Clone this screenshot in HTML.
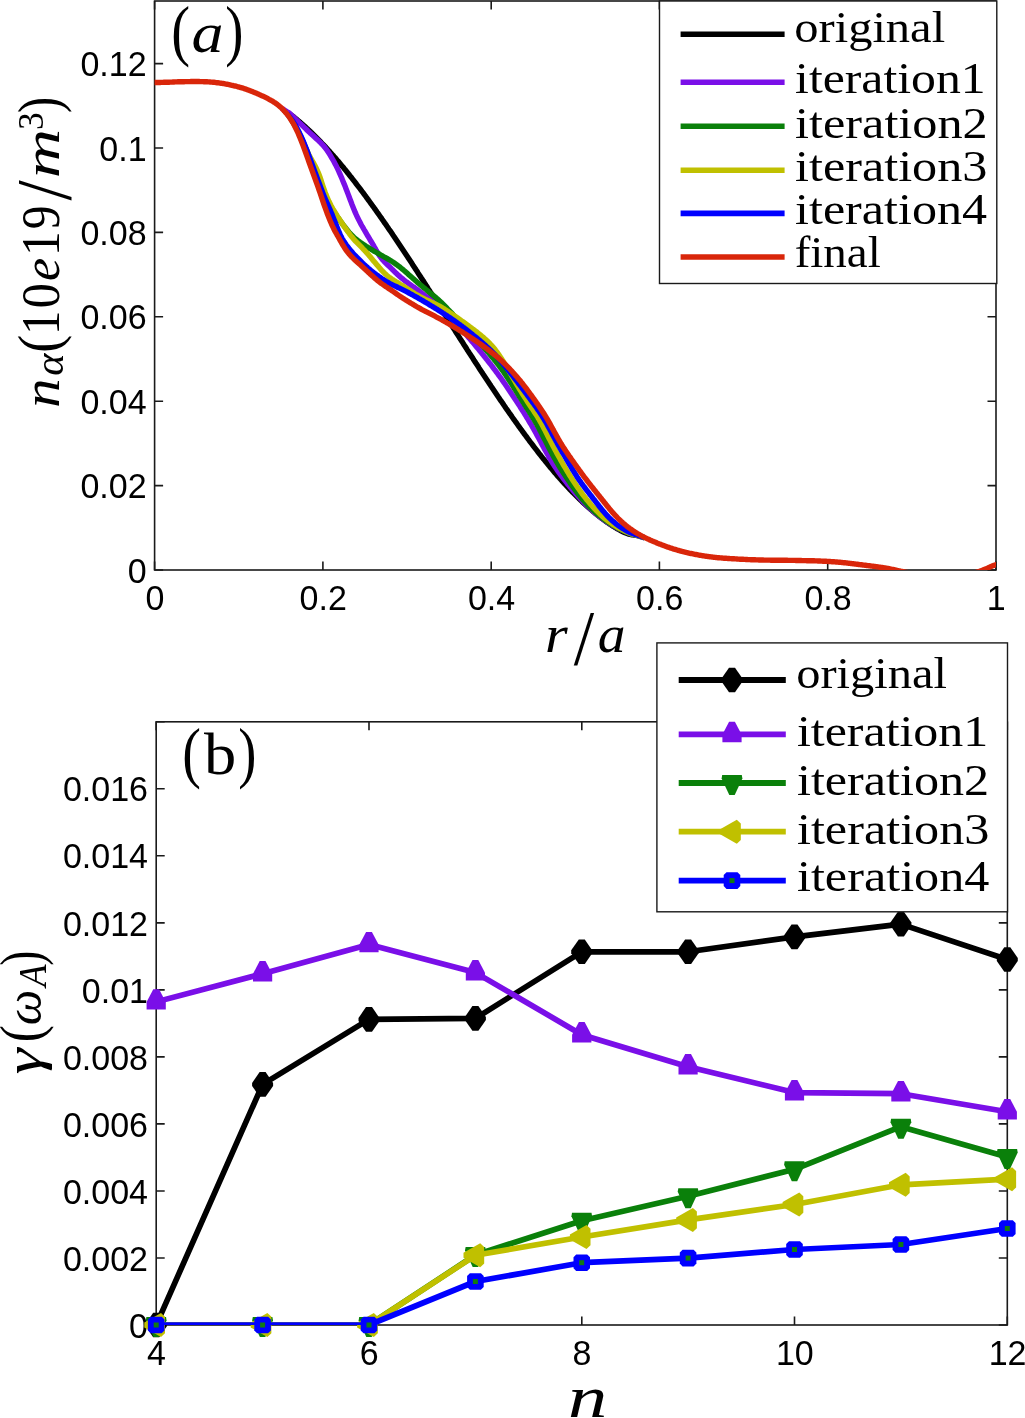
<!DOCTYPE html>
<html><head><meta charset="utf-8"><style>html,body{margin:0;padding:0;background:#fff;overflow:hidden}svg{display:block}</style></head><body>
<svg width="1025" height="1418" viewBox="0 0 1025 1418">
<defs><clipPath id="c1"><rect x="154.6" y="1.0" width="841.4" height="569.0"/></clipPath>
<clipPath id="c2"><rect x="156.2" y="721.8" width="851.1" height="603.2"/></clipPath></defs>
<rect width="1025" height="1418" fill="#fff"/>
<rect x="154.6" y="1.0" width="841.4" height="569.0" stroke="#1a1a1a" stroke-width="1.6" fill="none"/>
<path d="M154.6,570.0v-8.5M154.6,1.0v8.5M322.9,570.0v-8.5M322.9,1.0v8.5M491.2,570.0v-8.5M491.2,1.0v8.5M659.4,570.0v-8.5M659.4,1.0v8.5M827.7,570.0v-8.5M827.7,1.0v8.5M996.0,570.0v-8.5M996.0,1.0v8.5M154.6,570.0h8.5M996.0,570.0h-8.5M154.6,485.6h8.5M996.0,485.6h-8.5M154.6,401.2h8.5M996.0,401.2h-8.5M154.6,316.8h8.5M996.0,316.8h-8.5M154.6,232.4h8.5M996.0,232.4h-8.5M154.6,148.0h8.5M996.0,148.0h-8.5M154.6,63.6h8.5M996.0,63.6h-8.5" stroke="#1a1a1a" stroke-width="1.6" fill="none"/>
<g clip-path="url(#c1)" fill="none" stroke-width="5.4" stroke-linejoin="round" stroke-linecap="butt">
<path d="M284.0,110.3 L285.0,111.2 L286.0,111.9 L287.0,112.6 L288.0,113.2 L289.0,113.7 L290.0,114.3 L291.0,114.9 L292.0,115.6 L293.0,116.4 L294.0,117.2 L295.0,118.0 L296.0,118.8 L297.0,119.7 L298.0,120.5 L299.0,121.3 L300.0,122.2 L301.0,123.0 L302.0,123.9 L303.0,124.8 L304.0,125.7 L305.0,126.6 L306.0,127.5 L307.0,128.4 L308.0,129.3 L309.0,130.3 L310.0,131.2 L311.0,132.2 L312.0,133.1 L313.0,134.1 L314.0,135.1 L315.0,136.1 L316.0,137.1 L317.0,138.1 L318.0,139.1 L319.0,140.1 L320.0,141.2 L321.0,142.2 L322.0,143.3 L323.0,144.3 L324.0,145.4 L325.0,146.5 L326.0,147.5 L327.0,148.6 L328.0,149.7 L329.0,150.8 L330.0,152.0 L331.0,153.1 L332.0,154.2 L333.0,155.3 L334.0,156.5 L335.0,157.6 L336.0,158.8 L337.0,160.0 L338.0,161.1 L339.0,162.3 L340.0,163.5 L341.0,164.7 L342.0,165.9 L343.0,167.1 L344.0,168.3 L345.0,169.6 L346.0,170.8 L347.0,172.0 L348.0,173.3 L349.0,174.5 L350.0,175.8 L351.0,177.1 L352.0,178.3 L353.0,179.6 L354.0,180.9 L355.0,182.2 L356.0,183.5 L357.0,184.8 L358.0,186.1 L359.0,187.4 L360.0,188.7 L361.0,190.0 L362.0,191.4 L363.0,192.7 L364.0,194.0 L365.0,195.4 L366.0,196.7 L367.0,198.1 L368.0,199.5 L369.0,200.8 L370.0,202.2 L371.0,203.6 L372.0,205.0 L373.0,206.4 L374.0,207.7 L375.0,209.1 L376.0,210.5 L377.0,212.0 L378.0,213.4 L379.0,214.8 L380.0,216.2 L381.0,217.6 L382.0,219.1 L383.0,220.5 L384.0,221.9 L385.0,223.4 L386.0,224.8 L387.0,226.3 L388.0,227.7 L389.0,229.2 L390.0,230.6 L391.0,232.1 L392.0,233.6 L393.0,235.1 L394.0,236.5 L395.0,238.0 L396.0,239.5 L397.0,241.0 L398.0,242.5 L399.0,244.0 L400.0,245.5 L401.0,247.0 L402.0,248.5 L403.0,250.0 L404.0,251.5 L405.0,253.0 L406.0,254.5 L407.0,256.0 L408.0,257.5 L409.0,259.1 L410.0,260.6 L411.0,262.1 L412.0,263.6 L413.0,265.2 L414.0,266.7 L415.0,268.2 L416.0,269.8 L417.0,271.3 L418.0,272.9 L419.0,274.4 L420.0,275.9 L421.0,277.5 L422.0,279.0 L423.0,280.6 L424.0,282.1 L425.0,283.7 L426.0,285.3 L427.0,286.8 L428.0,288.4 L429.0,289.9 L430.0,291.5 L431.0,293.0 L432.0,294.6 L433.0,296.2 L434.0,297.7 L435.0,299.3 L436.0,300.9 L437.0,302.4 L438.0,304.0 L439.0,305.6 L440.0,307.1 L441.0,308.7 L442.0,310.3 L443.0,311.8 L444.0,313.4 L445.0,315.0 L446.0,316.5 L447.0,318.1 L448.0,319.7 L449.0,321.2 L450.0,322.8 L451.0,324.4 L452.0,325.9 L453.0,327.5 L454.0,329.1 L455.0,330.6 L456.0,332.2 L457.0,333.8 L458.0,335.3 L459.0,336.9 L460.0,338.5 L461.0,340.0 L462.0,341.6 L463.0,343.1 L464.0,344.7 L465.0,346.2 L466.0,347.8 L467.0,349.4 L468.0,350.9 L469.0,352.5 L470.0,354.0 L471.0,355.5 L472.0,357.1 L473.0,358.6 L474.0,360.2 L475.0,361.7 L476.0,363.3 L477.0,364.8 L478.0,366.3 L479.0,367.9 L480.0,369.4 L481.0,370.9 L482.0,372.4 L483.0,374.0 L484.0,375.5 L485.0,377.0 L486.0,378.5 L487.0,380.0 L488.0,381.5 L489.0,383.0 L490.0,384.6 L491.0,386.1 L492.0,387.5 L493.0,389.0 L494.0,390.5 L495.0,392.0 L496.0,393.5 L497.0,395.0 L498.0,396.5 L499.0,397.9 L500.0,399.4 L501.0,400.9 L502.0,402.3 L503.0,403.8 L504.0,405.3 L505.0,406.7 L506.0,408.2 L507.0,409.6 L508.0,411.0 L509.0,412.5 L510.0,413.9 L511.0,415.3 L512.0,416.8 L513.0,418.2 L514.0,419.6 L515.0,421.0 L516.0,422.4 L517.0,423.8 L518.0,425.2 L519.0,426.6 L520.0,428.0 L521.0,429.4 L522.0,430.7 L523.0,432.1 L524.0,433.5 L525.0,434.8 L526.0,436.2 L527.0,437.5 L528.0,438.9 L529.0,440.2 L530.0,441.6 L531.0,442.9 L532.0,444.2 L533.0,445.5 L534.0,446.8 L535.0,448.1 L536.0,449.4 L537.0,450.7 L538.0,452.0 L539.0,453.3 L540.0,454.6 L541.0,455.8 L542.0,457.1 L543.0,458.4 L544.0,459.6 L545.0,460.8 L546.0,462.1 L547.0,463.3 L548.0,464.5 L549.0,465.7 L550.0,467.0 L551.0,468.2 L552.0,469.3 L553.0,470.5 L554.0,471.7 L555.0,472.9 L556.0,474.0 L557.0,475.2 L558.0,476.4 L559.0,477.5 L560.0,478.6 L561.0,479.8 L562.0,480.9 L563.0,482.0 L564.0,483.1 L565.0,484.2 L566.0,485.3 L567.0,486.4 L568.0,487.4 L569.0,488.5 L570.0,489.6 L571.0,490.6 L572.0,491.6 L573.0,492.7 L574.0,493.7 L575.0,494.7 L576.0,495.7 L577.0,496.7 L578.0,497.7 L579.0,498.7 L580.0,499.6 L581.0,500.6 L582.0,501.5 L583.0,502.5 L584.0,503.4 L585.0,504.3 L586.0,505.3 L587.0,506.2 L588.0,507.1 L589.0,507.9 L590.0,508.8 L591.0,509.7 L592.0,510.5 L593.0,511.4 L594.0,512.2 L595.0,513.1 L596.0,513.9 L597.0,514.7 L598.0,515.5 L599.0,516.3 L600.0,517.0 L601.0,517.8 L602.0,518.6 L603.0,519.3 L604.0,520.0 L605.0,520.8 L606.0,521.5 L607.0,522.2 L608.0,522.9 L609.0,523.6 L610.0,524.2 L611.0,524.9 L612.0,525.5 L613.0,526.2 L614.0,526.8 L615.0,527.4 L616.0,528.0 L617.0,528.6 L618.0,529.2 L619.0,529.7 L620.0,530.3 L621.0,530.8 L622.0,531.3 L623.0,531.8 L624.0,532.3 L625.0,532.7 L626.0,533.1 L627.0,533.5 L628.0,533.8 L629.0,534.1 L630.0,534.4 L631.0,534.6 L632.0,534.8 L633.0,534.9 L634.0,535.0 L635.0,535.1 L636.0,535.3 L637.0,535.4 L638.0,535.5 L639.0,535.7 L640.0,536.0 L641.0,536.2 L642.0,536.5 L643.0,536.9" stroke="#000000"/>
<path d="M282.0,108.3 L283.0,109.1 L284.0,109.8 L285.0,110.5 L286.0,111.1 L287.0,111.7 L288.0,112.3 L289.0,112.9 L290.0,113.7 L291.0,114.7 L292.0,115.6 L293.0,116.6 L294.0,117.5 L295.0,118.5 L296.0,119.4 L297.0,120.4 L298.0,121.3 L299.0,122.3 L300.0,123.3 L301.0,124.2 L302.0,125.2 L303.0,126.1 L304.0,127.1 L305.0,128.1 L306.0,129.0 L307.0,130.0 L308.0,131.0 L309.0,131.9 L310.0,132.9 L311.0,133.8 L312.0,134.7 L313.0,135.6 L314.0,136.6 L315.0,137.5 L316.0,138.4 L317.0,139.3 L318.0,140.2 L319.0,141.2 L320.0,142.1 L321.0,143.1 L322.0,144.2 L323.0,145.3 L324.0,146.4 L325.0,147.6 L326.0,148.9 L327.0,150.3 L328.0,151.8 L329.0,153.3 L330.0,154.9 L331.0,156.6 L332.0,158.3 L333.0,160.0 L334.0,161.8 L335.0,163.7 L336.0,165.6 L337.0,167.6 L338.0,169.7 L339.0,171.8 L340.0,174.1 L341.0,176.4 L342.0,178.7 L343.0,181.2 L344.0,183.6 L345.0,186.1 L346.0,188.7 L347.0,191.2 L348.0,193.9 L349.0,196.5 L350.0,199.2 L351.0,201.8 L352.0,204.5 L353.0,207.0 L354.0,209.5 L355.0,211.9 L356.0,214.2 L357.0,216.3 L358.0,218.4 L359.0,220.4 L360.0,222.3 L361.0,224.2 L362.0,226.0 L363.0,227.7 L364.0,229.5 L365.0,231.2 L366.0,232.9 L367.0,234.6 L368.0,236.3 L369.0,237.9 L370.0,239.6 L371.0,241.3 L372.0,242.9 L373.0,244.6 L374.0,246.4 L375.0,248.1 L376.0,249.9 L377.0,251.6 L378.0,253.3 L379.0,254.9 L380.0,256.4 L381.0,257.8 L382.0,259.0 L383.0,260.2 L384.0,261.3 L385.0,262.3 L386.0,263.3 L387.0,264.3 L388.0,265.3 L389.0,266.2 L390.0,267.2 L391.0,268.2 L392.0,269.2 L393.0,270.1 L394.0,271.1 L395.0,272.1 L396.0,273.1 L397.0,274.0 L398.0,274.9 L399.0,275.9 L400.0,276.7 L401.0,277.6 L402.0,278.4 L403.0,279.2 L404.0,280.0 L405.0,280.8 L406.0,281.6 L407.0,282.3 L408.0,283.0 L409.0,283.8 L410.0,284.5 L411.0,285.2 L412.0,285.9 L413.0,286.6 L414.0,287.3 L415.0,288.0 L416.0,288.8 L417.0,289.5 L418.0,290.2 L419.0,290.9 L420.0,291.7 L421.0,292.4 L422.0,293.2 L423.0,293.9 L424.0,294.7 L425.0,295.4 L426.0,296.2 L427.0,296.9 L428.0,297.7 L429.0,298.5 L430.0,299.3 L431.0,300.1 L432.0,300.8 L433.0,301.6 L434.0,302.4 L435.0,303.2 L436.0,304.1 L437.0,304.9 L438.0,305.7 L439.0,306.6 L440.0,307.5 L441.0,308.4 L442.0,309.3 L443.0,310.2 L444.0,311.1 L445.0,312.1 L446.0,313.1 L447.0,314.1 L448.0,315.0 L449.0,316.0 L450.0,317.0 L451.0,318.0 L452.0,319.0 L453.0,320.1 L454.0,321.1 L455.0,322.1 L456.0,323.2 L457.0,324.2 L458.0,325.3 L459.0,326.4 L460.0,327.5 L461.0,328.6 L462.0,329.7 L463.0,330.9 L464.0,332.0 L465.0,333.2 L466.0,334.3 L467.0,335.5 L468.0,336.7 L469.0,337.9 L470.0,339.0 L471.0,340.2 L472.0,341.4 L473.0,342.6 L474.0,343.8 L475.0,345.0 L476.0,346.2 L477.0,347.4 L478.0,348.6 L479.0,349.8 L480.0,351.1 L481.0,352.3 L482.0,353.5 L483.0,354.7 L484.0,356.0 L485.0,357.2 L486.0,358.5 L487.0,359.7 L488.0,361.0 L489.0,362.3 L490.0,363.6 L491.0,364.8 L492.0,366.2 L493.0,367.5 L494.0,368.8 L495.0,370.1 L496.0,371.5 L497.0,372.8 L498.0,374.2 L499.0,375.6 L500.0,376.9 L501.0,378.3 L502.0,379.7 L503.0,381.2 L504.0,382.6 L505.0,384.0 L506.0,385.5 L507.0,386.9 L508.0,388.4 L509.0,389.9 L510.0,391.4 L511.0,392.9 L512.0,394.4 L513.0,395.9 L514.0,397.4 L515.0,398.9 L516.0,400.4 L517.0,402.0 L518.0,403.5 L519.0,405.1 L520.0,406.6 L521.0,408.2 L522.0,409.7 L523.0,411.3 L524.0,412.9 L525.0,414.5 L526.0,416.1 L527.0,417.8 L528.0,419.4 L529.0,421.1 L530.0,422.8 L531.0,424.5 L532.0,426.2 L533.0,428.0 L534.0,429.7 L535.0,431.5 L536.0,433.3 L537.0,435.1 L538.0,436.9 L539.0,438.8 L540.0,440.6 L541.0,442.5 L542.0,444.4 L543.0,446.2 L544.0,448.1 L545.0,449.9 L546.0,451.7 L547.0,453.5 L548.0,455.3 L549.0,457.1 L550.0,458.8 L551.0,460.4 L552.0,462.1 L553.0,463.7 L554.0,465.2 L555.0,466.8 L556.0,468.3 L557.0,469.7 L558.0,471.2 L559.0,472.6 L560.0,474.0 L561.0,475.4 L562.0,476.7 L563.0,478.0 L564.0,479.3 L565.0,480.6 L566.0,481.9 L567.0,483.2 L568.0,484.4 L569.0,485.6 L570.0,486.9 L571.0,488.1 L572.0,489.3 L573.0,490.4 L574.0,491.6 L575.0,492.7 L576.0,493.9 L577.0,495.0 L578.0,496.1 L579.0,497.2 L580.0,498.3 L581.0,499.4 L582.0,500.4 L583.0,501.5 L584.0,502.5 L585.0,503.5 L586.0,504.5 L587.0,505.5 L588.0,506.4 L589.0,507.4 L590.0,508.4 L591.0,509.3 L592.0,510.2 L593.0,511.1 L594.0,512.0 L595.0,512.9 L596.0,513.7 L597.0,514.6 L598.0,515.4 L599.0,516.2 L600.0,517.0 L601.0,517.7 L602.0,518.5 L603.0,519.2 L604.0,519.9 L605.0,520.6 L606.0,521.3 L607.0,521.9 L608.0,522.6 L609.0,523.2 L610.0,523.8 L611.0,524.4 L612.0,525.0 L613.0,525.6 L614.0,526.2 L615.0,526.7 L616.0,527.3 L617.0,527.8 L618.0,528.3 L619.0,528.8 L620.0,529.3 L621.0,529.8 L622.0,530.3 L623.0,530.7 L624.0,531.2 L625.0,531.6 L626.0,532.0 L627.0,532.4 L628.0,532.8 L629.0,533.2 L630.0,533.6 L631.0,533.9 L632.0,534.2 L633.0,534.5 L634.0,534.7 L635.0,535.0 L636.0,535.2 L637.0,535.5 L638.0,535.7 L639.0,536.0 L640.0,536.3 L641.0,536.6 L642.0,536.9 L643.0,537.3 L644.0,537.6 L645.0,538.0" stroke="#7a0fe8"/>
<path d="M292.0,120.9 L293.0,122.4 L294.0,124.0 L295.0,125.7 L296.0,127.5 L297.0,129.3 L298.0,131.2 L299.0,133.2 L300.0,135.3 L301.0,137.4 L302.0,139.6 L303.0,141.9 L304.0,144.2 L305.0,146.6 L306.0,149.0 L307.0,151.4 L308.0,153.8 L309.0,156.3 L310.0,158.8 L311.0,161.3 L312.0,163.7 L313.0,166.2 L314.0,168.7 L315.0,171.1 L316.0,173.6 L317.0,176.0 L318.0,178.5 L319.0,180.9 L320.0,183.4 L321.0,185.8 L322.0,188.3 L323.0,190.6 L324.0,193.0 L325.0,195.2 L326.0,197.4 L327.0,199.4 L328.0,201.4 L329.0,203.3 L330.0,205.1 L331.0,206.8 L332.0,208.5 L333.0,210.1 L334.0,211.7 L335.0,213.2 L336.0,214.7 L337.0,216.2 L338.0,217.6 L339.0,219.0 L340.0,220.5 L341.0,221.9 L342.0,223.2 L343.0,224.6 L344.0,225.9 L345.0,227.2 L346.0,228.5 L347.0,229.8 L348.0,231.0 L349.0,232.2 L350.0,233.3 L351.0,234.4 L352.0,235.4 L353.0,236.4 L354.0,237.4 L355.0,238.3 L356.0,239.1 L357.0,239.9 L358.0,240.7 L359.0,241.4 L360.0,242.2 L361.0,242.9 L362.0,243.5 L363.0,244.2 L364.0,244.9 L365.0,245.5 L366.0,246.2 L367.0,246.8 L368.0,247.4 L369.0,248.1 L370.0,248.7 L371.0,249.3 L372.0,249.9 L373.0,250.5 L374.0,251.1 L375.0,251.7 L376.0,252.2 L377.0,252.8 L378.0,253.4 L379.0,254.0 L380.0,254.5 L381.0,255.1 L382.0,255.6 L383.0,256.2 L384.0,256.8 L385.0,257.3 L386.0,257.9 L387.0,258.5 L388.0,259.0 L389.0,259.6 L390.0,260.2 L391.0,260.9 L392.0,261.5 L393.0,262.1 L394.0,262.8 L395.0,263.5 L396.0,264.2 L397.0,264.9 L398.0,265.7 L399.0,266.4 L400.0,267.2 L401.0,268.0 L402.0,268.8 L403.0,269.6 L404.0,270.5 L405.0,271.3 L406.0,272.2 L407.0,273.1 L408.0,274.0 L409.0,274.9 L410.0,275.8 L411.0,276.7 L412.0,277.5 L413.0,278.4 L414.0,279.3 L415.0,280.2 L416.0,281.1 L417.0,282.0 L418.0,282.9 L419.0,283.7 L420.0,284.6 L421.0,285.4 L422.0,286.2 L423.0,287.1 L424.0,287.9 L425.0,288.7 L426.0,289.5 L427.0,290.3 L428.0,291.1 L429.0,292.0 L430.0,292.8 L431.0,293.6 L432.0,294.4 L433.0,295.2 L434.0,296.0 L435.0,296.9 L436.0,297.7 L437.0,298.6 L438.0,299.4 L439.0,300.3 L440.0,301.3 L441.0,302.2 L442.0,303.1 L443.0,304.1 L444.0,305.1 L445.0,306.1 L446.0,307.2 L447.0,308.2 L448.0,309.3 L449.0,310.3 L450.0,311.4 L451.0,312.4 L452.0,313.5 L453.0,314.5 L454.0,315.6 L455.0,316.7 L456.0,317.7 L457.0,318.8 L458.0,319.8 L459.0,320.9 L460.0,322.0 L461.0,323.0 L462.0,324.1 L463.0,325.1 L464.0,326.2 L465.0,327.2 L466.0,328.3 L467.0,329.3 L468.0,330.4 L469.0,331.5 L470.0,332.5 L471.0,333.6 L472.0,334.6 L473.0,335.7 L474.0,336.8 L475.0,337.8 L476.0,338.9 L477.0,340.0 L478.0,341.0 L479.0,342.1 L480.0,343.2 L481.0,344.3 L482.0,345.4 L483.0,346.5 L484.0,347.6 L485.0,348.7 L486.0,349.9 L487.0,351.0 L488.0,352.2 L489.0,353.3 L490.0,354.5 L491.0,355.7 L492.0,356.9 L493.0,358.1 L494.0,359.3 L495.0,360.6 L496.0,361.8 L497.0,363.1 L498.0,364.4 L499.0,365.7 L500.0,367.0 L501.0,368.4 L502.0,369.8 L503.0,371.1 L504.0,372.6 L505.0,374.0 L506.0,375.4 L507.0,376.9 L508.0,378.4 L509.0,379.9 L510.0,381.4 L511.0,383.0 L512.0,384.5 L513.0,386.1 L514.0,387.7 L515.0,389.3 L516.0,390.9 L517.0,392.5 L518.0,394.1 L519.0,395.7 L520.0,397.3 L521.0,398.9 L522.0,400.5 L523.0,402.1 L524.0,403.6 L525.0,405.2 L526.0,406.7 L527.0,408.3 L528.0,409.8 L529.0,411.4 L530.0,413.0 L531.0,414.6 L532.0,416.2 L533.0,417.8 L534.0,419.5 L535.0,421.3 L536.0,423.0 L537.0,424.8 L538.0,426.6 L539.0,428.5 L540.0,430.4 L541.0,432.3 L542.0,434.2 L543.0,436.2 L544.0,438.2 L545.0,440.1 L546.0,442.1 L547.0,444.0 L548.0,446.0 L549.0,447.9 L550.0,449.9 L551.0,451.7 L552.0,453.6 L553.0,455.5 L554.0,457.3 L555.0,459.0 L556.0,460.8 L557.0,462.5 L558.0,464.2 L559.0,465.9 L560.0,467.5 L561.0,469.1 L562.0,470.7 L563.0,472.2 L564.0,473.8 L565.0,475.3 L566.0,476.8 L567.0,478.3 L568.0,479.8 L569.0,481.3 L570.0,482.7 L571.0,484.2 L572.0,485.6 L573.0,487.0 L574.0,488.4 L575.0,489.8 L576.0,491.1 L577.0,492.5 L578.0,493.8 L579.0,495.1 L580.0,496.3 L581.0,497.5 L582.0,498.7 L583.0,499.9 L584.0,501.0 L585.0,502.1 L586.0,503.2 L587.0,504.3 L588.0,505.3 L589.0,506.3 L590.0,507.3 L591.0,508.3 L592.0,509.2 L593.0,510.2 L594.0,511.1 L595.0,512.0 L596.0,512.9 L597.0,513.7 L598.0,514.6 L599.0,515.4 L600.0,516.2 L601.0,517.0 L602.0,517.8 L603.0,518.6 L604.0,519.3 L605.0,520.0 L606.0,520.7 L607.0,521.4 L608.0,522.1 L609.0,522.7 L610.0,523.4 L611.0,524.0 L612.0,524.6 L613.0,525.2 L614.0,525.8 L615.0,526.4 L616.0,526.9 L617.0,527.5 L618.0,528.0 L619.0,528.6 L620.0,529.1 L621.0,529.6 L622.0,530.1 L623.0,530.5 L624.0,531.0 L625.0,531.4 L626.0,531.9 L627.0,532.3 L628.0,532.7 L629.0,533.1 L630.0,533.5 L631.0,533.8 L632.0,534.1 L633.0,534.4 L634.0,534.7 L635.0,535.0 L636.0,535.2 L637.0,535.5 L638.0,535.7 L639.0,536.0 L640.0,536.3 L641.0,536.6 L642.0,536.9 L643.0,537.2 L644.0,537.6 L645.0,538.0" stroke="#0a800a"/>
<path d="M291.0,119.3 L292.0,120.8 L293.0,122.3 L294.0,123.9 L295.0,125.6 L296.0,127.3 L297.0,129.2 L298.0,131.1 L299.0,133.1 L300.0,135.2 L301.0,137.3 L302.0,139.6 L303.0,141.9 L304.0,144.2 L305.0,146.5 L306.0,148.8 L307.0,151.0 L308.0,153.1 L309.0,155.0 L310.0,156.9 L311.0,158.6 L312.0,160.4 L313.0,162.1 L314.0,163.9 L315.0,165.8 L316.0,167.7 L317.0,169.8 L318.0,172.0 L319.0,174.5 L320.0,177.2 L321.0,180.2 L322.0,183.3 L323.0,186.3 L324.0,189.2 L325.0,192.0 L326.0,194.6 L327.0,197.0 L328.0,199.3 L329.0,201.5 L330.0,203.5 L331.0,205.5 L332.0,207.3 L333.0,209.1 L334.0,210.8 L335.0,212.4 L336.0,214.0 L337.0,215.6 L338.0,217.2 L339.0,218.7 L340.0,220.2 L341.0,221.7 L342.0,223.2 L343.0,224.7 L344.0,226.2 L345.0,227.6 L346.0,229.1 L347.0,230.5 L348.0,231.9 L349.0,233.2 L350.0,234.6 L351.0,235.9 L352.0,237.1 L353.0,238.3 L354.0,239.5 L355.0,240.6 L356.0,241.7 L357.0,242.7 L358.0,243.7 L359.0,244.7 L360.0,245.7 L361.0,246.7 L362.0,247.7 L363.0,248.8 L364.0,249.8 L365.0,250.9 L366.0,252.0 L367.0,253.1 L368.0,254.3 L369.0,255.4 L370.0,256.6 L371.0,257.8 L372.0,259.0 L373.0,260.2 L374.0,261.4 L375.0,262.5 L376.0,263.7 L377.0,264.9 L378.0,266.1 L379.0,267.3 L380.0,268.4 L381.0,269.6 L382.0,270.7 L383.0,271.7 L384.0,272.7 L385.0,273.7 L386.0,274.6 L387.0,275.5 L388.0,276.3 L389.0,277.1 L390.0,277.8 L391.0,278.5 L392.0,279.2 L393.0,279.8 L394.0,280.5 L395.0,281.1 L396.0,281.7 L397.0,282.3 L398.0,282.9 L399.0,283.5 L400.0,284.2 L401.0,284.8 L402.0,285.4 L403.0,286.0 L404.0,286.6 L405.0,287.3 L406.0,287.9 L407.0,288.6 L408.0,289.2 L409.0,289.9 L410.0,290.5 L411.0,291.1 L412.0,291.8 L413.0,292.4 L414.0,293.0 L415.0,293.7 L416.0,294.3 L417.0,294.9 L418.0,295.5 L419.0,296.0 L420.0,296.6 L421.0,297.1 L422.0,297.6 L423.0,298.2 L424.0,298.7 L425.0,299.2 L426.0,299.6 L427.0,300.1 L428.0,300.6 L429.0,301.0 L430.0,301.5 L431.0,302.0 L432.0,302.4 L433.0,302.9 L434.0,303.4 L435.0,303.9 L436.0,304.4 L437.0,304.9 L438.0,305.4 L439.0,305.9 L440.0,306.5 L441.0,307.0 L442.0,307.6 L443.0,308.2 L444.0,308.8 L445.0,309.5 L446.0,310.1 L447.0,310.8 L448.0,311.4 L449.0,312.1 L450.0,312.8 L451.0,313.4 L452.0,314.1 L453.0,314.8 L454.0,315.5 L455.0,316.2 L456.0,316.9 L457.0,317.5 L458.0,318.2 L459.0,318.9 L460.0,319.6 L461.0,320.4 L462.0,321.1 L463.0,321.8 L464.0,322.5 L465.0,323.2 L466.0,324.0 L467.0,324.7 L468.0,325.4 L469.0,326.2 L470.0,326.9 L471.0,327.6 L472.0,328.4 L473.0,329.1 L474.0,329.9 L475.0,330.7 L476.0,331.4 L477.0,332.2 L478.0,333.0 L479.0,333.8 L480.0,334.6 L481.0,335.4 L482.0,336.3 L483.0,337.1 L484.0,338.0 L485.0,338.9 L486.0,339.8 L487.0,340.7 L488.0,341.7 L489.0,342.7 L490.0,343.7 L491.0,344.8 L492.0,345.9 L493.0,347.0 L494.0,348.2 L495.0,349.5 L496.0,350.8 L497.0,352.1 L498.0,353.5 L499.0,354.9 L500.0,356.4 L501.0,357.9 L502.0,359.5 L503.0,361.0 L504.0,362.7 L505.0,364.3 L506.0,366.0 L507.0,367.7 L508.0,369.4 L509.0,371.1 L510.0,372.8 L511.0,374.5 L512.0,376.3 L513.0,378.0 L514.0,379.7 L515.0,381.4 L516.0,383.1 L517.0,384.8 L518.0,386.5 L519.0,388.2 L520.0,389.8 L521.0,391.4 L522.0,393.1 L523.0,394.7 L524.0,396.2 L525.0,397.8 L526.0,399.3 L527.0,400.9 L528.0,402.4 L529.0,403.9 L530.0,405.4 L531.0,406.9 L532.0,408.4 L533.0,409.8 L534.0,411.4 L535.0,412.9 L536.0,414.4 L537.0,416.0 L538.0,417.7 L539.0,419.3 L540.0,421.1 L541.0,422.8 L542.0,424.7 L543.0,426.5 L544.0,428.4 L545.0,430.3 L546.0,432.3 L547.0,434.2 L548.0,436.2 L549.0,438.2 L550.0,440.1 L551.0,442.1 L552.0,444.0 L553.0,445.9 L554.0,447.8 L555.0,449.7 L556.0,451.5 L557.0,453.4 L558.0,455.2 L559.0,457.0 L560.0,458.8 L561.0,460.6 L562.0,462.3 L563.0,464.1 L564.0,465.8 L565.0,467.5 L566.0,469.2 L567.0,470.9 L568.0,472.5 L569.0,474.2 L570.0,475.8 L571.0,477.4 L572.0,479.0 L573.0,480.5 L574.0,482.0 L575.0,483.5 L576.0,485.0 L577.0,486.5 L578.0,487.9 L579.0,489.3 L580.0,490.7 L581.0,492.1 L582.0,493.5 L583.0,494.8 L584.0,496.1 L585.0,497.4 L586.0,498.7 L587.0,499.9 L588.0,501.1 L589.0,502.3 L590.0,503.5 L591.0,504.7 L592.0,505.8 L593.0,506.9 L594.0,508.0 L595.0,509.1 L596.0,510.1 L597.0,511.2 L598.0,512.2 L599.0,513.2 L600.0,514.2 L601.0,515.1 L602.0,516.0 L603.0,516.9 L604.0,517.8 L605.0,518.6 L606.0,519.4 L607.0,520.2 L608.0,521.0 L609.0,521.7 L610.0,522.4 L611.0,523.1 L612.0,523.8 L613.0,524.5 L614.0,525.2 L615.0,525.8 L616.0,526.4 L617.0,527.0 L618.0,527.6 L619.0,528.1 L620.0,528.7 L621.0,529.2 L622.0,529.7 L623.0,530.2 L624.0,530.7 L625.0,531.2 L626.0,531.6 L627.0,532.0 L628.0,532.4 L629.0,532.8 L630.0,533.2 L631.0,533.6 L632.0,533.9 L633.0,534.2 L634.0,534.5 L635.0,534.7 L636.0,535.0 L637.0,535.3 L638.0,535.6 L639.0,535.8 L640.0,536.2 L641.0,536.5 L642.0,536.8 L643.0,537.2 L644.0,537.5" stroke="#c0c000"/>
<path d="M287.0,113.8 L288.0,114.9 L289.0,116.1 L290.0,117.4 L291.0,118.7 L292.0,120.1 L293.0,121.6 L294.0,123.1 L295.0,124.7 L296.0,126.4 L297.0,128.2 L298.0,130.1 L299.0,132.0 L300.0,134.1 L301.0,136.2 L302.0,138.4 L303.0,140.7 L304.0,143.1 L305.0,145.6 L306.0,148.1 L307.0,150.6 L308.0,153.2 L309.0,155.9 L310.0,158.6 L311.0,161.3 L312.0,164.0 L313.0,166.7 L314.0,169.4 L315.0,172.1 L316.0,174.8 L317.0,177.4 L318.0,180.1 L319.0,182.8 L320.0,185.5 L321.0,188.2 L322.0,190.8 L323.0,193.4 L324.0,195.9 L325.0,198.3 L326.0,200.7 L327.0,202.9 L328.0,205.2 L329.0,207.4 L330.0,209.7 L331.0,212.0 L332.0,214.4 L333.0,216.9 L334.0,219.4 L335.0,222.0 L336.0,224.5 L337.0,227.0 L338.0,229.5 L339.0,231.9 L340.0,234.2 L341.0,236.3 L342.0,238.2 L343.0,240.0 L344.0,241.6 L345.0,243.1 L346.0,244.6 L347.0,245.9 L348.0,247.2 L349.0,248.5 L350.0,249.7 L351.0,250.9 L352.0,252.0 L353.0,253.2 L354.0,254.3 L355.0,255.3 L356.0,256.4 L357.0,257.5 L358.0,258.5 L359.0,259.5 L360.0,260.5 L361.0,261.5 L362.0,262.5 L363.0,263.4 L364.0,264.4 L365.0,265.3 L366.0,266.2 L367.0,267.1 L368.0,268.0 L369.0,268.8 L370.0,269.7 L371.0,270.5 L372.0,271.3 L373.0,272.1 L374.0,272.9 L375.0,273.6 L376.0,274.4 L377.0,275.1 L378.0,275.8 L379.0,276.6 L380.0,277.3 L381.0,278.0 L382.0,278.7 L383.0,279.3 L384.0,280.0 L385.0,280.6 L386.0,281.3 L387.0,281.9 L388.0,282.5 L389.0,283.0 L390.0,283.6 L391.0,284.1 L392.0,284.6 L393.0,285.1 L394.0,285.6 L395.0,286.1 L396.0,286.5 L397.0,287.0 L398.0,287.5 L399.0,287.9 L400.0,288.4 L401.0,288.9 L402.0,289.4 L403.0,289.9 L404.0,290.4 L405.0,290.9 L406.0,291.4 L407.0,291.9 L408.0,292.5 L409.0,293.0 L410.0,293.6 L411.0,294.1 L412.0,294.7 L413.0,295.2 L414.0,295.8 L415.0,296.3 L416.0,296.9 L417.0,297.4 L418.0,298.0 L419.0,298.6 L420.0,299.1 L421.0,299.7 L422.0,300.3 L423.0,300.9 L424.0,301.5 L425.0,302.1 L426.0,302.6 L427.0,303.2 L428.0,303.8 L429.0,304.5 L430.0,305.1 L431.0,305.7 L432.0,306.3 L433.0,306.9 L434.0,307.5 L435.0,308.1 L436.0,308.7 L437.0,309.3 L438.0,310.0 L439.0,310.6 L440.0,311.2 L441.0,311.9 L442.0,312.5 L443.0,313.2 L444.0,313.8 L445.0,314.5 L446.0,315.1 L447.0,315.8 L448.0,316.5 L449.0,317.1 L450.0,317.8 L451.0,318.5 L452.0,319.2 L453.0,319.9 L454.0,320.5 L455.0,321.2 L456.0,321.9 L457.0,322.6 L458.0,323.4 L459.0,324.1 L460.0,324.8 L461.0,325.6 L462.0,326.3 L463.0,327.1 L464.0,327.8 L465.0,328.6 L466.0,329.4 L467.0,330.2 L468.0,331.0 L469.0,331.7 L470.0,332.5 L471.0,333.3 L472.0,334.1 L473.0,335.0 L474.0,335.8 L475.0,336.6 L476.0,337.4 L477.0,338.2 L478.0,339.0 L479.0,339.9 L480.0,340.7 L481.0,341.6 L482.0,342.4 L483.0,343.3 L484.0,344.2 L485.0,345.1 L486.0,346.0 L487.0,346.9 L488.0,347.8 L489.0,348.7 L490.0,349.7 L491.0,350.6 L492.0,351.6 L493.0,352.6 L494.0,353.7 L495.0,354.7 L496.0,355.8 L497.0,356.8 L498.0,357.9 L499.0,359.0 L500.0,360.2 L501.0,361.3 L502.0,362.5 L503.0,363.7 L504.0,364.9 L505.0,366.1 L506.0,367.3 L507.0,368.6 L508.0,369.8 L509.0,371.1 L510.0,372.4 L511.0,373.6 L512.0,374.9 L513.0,376.2 L514.0,377.5 L515.0,378.8 L516.0,380.1 L517.0,381.4 L518.0,382.7 L519.0,384.1 L520.0,385.4 L521.0,386.7 L522.0,388.0 L523.0,389.4 L524.0,390.7 L525.0,392.0 L526.0,393.4 L527.0,394.7 L528.0,396.1 L529.0,397.4 L530.0,398.8 L531.0,400.1 L532.0,401.5 L533.0,402.9 L534.0,404.2 L535.0,405.6 L536.0,407.0 L537.0,408.4 L538.0,409.9 L539.0,411.3 L540.0,412.8 L541.0,414.3 L542.0,415.9 L543.0,417.5 L544.0,419.1 L545.0,420.8 L546.0,422.5 L547.0,424.3 L548.0,426.1 L549.0,427.9 L550.0,429.7 L551.0,431.6 L552.0,433.5 L553.0,435.4 L554.0,437.2 L555.0,439.1 L556.0,440.9 L557.0,442.8 L558.0,444.6 L559.0,446.3 L560.0,448.1 L561.0,449.8 L562.0,451.6 L563.0,453.3 L564.0,455.0 L565.0,456.7 L566.0,458.4 L567.0,460.2 L568.0,461.9 L569.0,463.6 L570.0,465.2 L571.0,466.9 L572.0,468.6 L573.0,470.3 L574.0,471.9 L575.0,473.5 L576.0,475.1 L577.0,476.7 L578.0,478.2 L579.0,479.7 L580.0,481.1 L581.0,482.6 L582.0,484.0 L583.0,485.3 L584.0,486.7 L585.0,488.0 L586.0,489.3 L587.0,490.6 L588.0,491.9 L589.0,493.2 L590.0,494.5 L591.0,495.7 L592.0,497.0 L593.0,498.3 L594.0,499.6 L595.0,500.8 L596.0,502.1 L597.0,503.4 L598.0,504.7 L599.0,506.0 L600.0,507.2 L601.0,508.5 L602.0,509.7 L603.0,510.9 L604.0,512.1 L605.0,513.3 L606.0,514.4 L607.0,515.5 L608.0,516.5 L609.0,517.6 L610.0,518.6 L611.0,519.5 L612.0,520.4 L613.0,521.3 L614.0,522.2 L615.0,523.0 L616.0,523.8 L617.0,524.6 L618.0,525.3 L619.0,526.1 L620.0,526.8 L621.0,527.4 L622.0,528.1 L623.0,528.7 L624.0,529.3 L625.0,529.9 L626.0,530.5 L627.0,531.0 L628.0,531.5 L629.0,532.0 L630.0,532.5 L631.0,532.9 L632.0,533.3 L633.0,533.7 L634.0,534.0 L635.0,534.4 L636.0,534.7 L637.0,535.0 L638.0,535.3 L639.0,535.7 L640.0,536.0 L641.0,536.4 L642.0,536.7 L643.0,537.1 L644.0,537.5" stroke="#0000ff"/>
<path d="M150.0,82.5 L151.0,82.5 L152.0,82.5 L153.0,82.5 L154.0,82.5 L155.0,82.5 L156.0,82.5 L157.0,82.5 L158.0,82.5 L159.0,82.5 L160.0,82.5 L161.0,82.4 L162.0,82.4 L163.0,82.4 L164.0,82.3 L165.0,82.3 L166.0,82.3 L167.0,82.2 L168.0,82.2 L169.0,82.2 L170.0,82.1 L171.0,82.1 L172.0,82.1 L173.0,82.0 L174.0,82.0 L175.0,81.9 L176.0,81.9 L177.0,81.9 L178.0,81.8 L179.0,81.8 L180.0,81.8 L181.0,81.8 L182.0,81.7 L183.0,81.7 L184.0,81.7 L185.0,81.6 L186.0,81.6 L187.0,81.6 L188.0,81.6 L189.0,81.6 L190.0,81.6 L191.0,81.5 L192.0,81.5 L193.0,81.5 L194.0,81.5 L195.0,81.5 L196.0,81.5 L197.0,81.5 L198.0,81.5 L199.0,81.5 L200.0,81.6 L201.0,81.6 L202.0,81.6 L203.0,81.6 L204.0,81.7 L205.0,81.7 L206.0,81.8 L207.0,81.8 L208.0,81.9 L209.0,81.9 L210.0,82.0 L211.0,82.1 L212.0,82.1 L213.0,82.2 L214.0,82.3 L215.0,82.4 L216.0,82.6 L217.0,82.7 L218.0,82.8 L219.0,82.9 L220.0,83.1 L221.0,83.2 L222.0,83.4 L223.0,83.5 L224.0,83.7 L225.0,83.9 L226.0,84.1 L227.0,84.2 L228.0,84.4 L229.0,84.6 L230.0,84.8 L231.0,85.1 L232.0,85.3 L233.0,85.5 L234.0,85.8 L235.0,86.0 L236.0,86.2 L237.0,86.5 L238.0,86.8 L239.0,87.0 L240.0,87.3 L241.0,87.6 L242.0,87.9 L243.0,88.2 L244.0,88.5 L245.0,88.9 L246.0,89.2 L247.0,89.6 L248.0,89.9 L249.0,90.3 L250.0,90.7 L251.0,91.1 L252.0,91.4 L253.0,91.8 L254.0,92.3 L255.0,92.7 L256.0,93.1 L257.0,93.5 L258.0,93.9 L259.0,94.4 L260.0,94.8 L261.0,95.3 L262.0,95.8 L263.0,96.2 L264.0,96.7 L265.0,97.2 L266.0,97.7 L267.0,98.2 L268.0,98.7 L269.0,99.3 L270.0,99.8 L271.0,100.4 L272.0,100.9 L273.0,101.5 L274.0,102.2 L275.0,102.8 L276.0,103.5 L277.0,104.2 L278.0,105.0 L279.0,105.8 L280.0,106.7 L281.0,107.6 L282.0,108.5 L283.0,109.5 L284.0,110.6 L285.0,111.7 L286.0,112.9 L287.0,114.1 L288.0,115.4 L289.0,116.8 L290.0,118.2 L291.0,119.7 L292.0,121.3 L293.0,123.0 L294.0,124.8 L295.0,126.7 L296.0,128.7 L297.0,130.8 L298.0,133.0 L299.0,135.3 L300.0,137.7 L301.0,140.2 L302.0,142.8 L303.0,145.4 L304.0,148.1 L305.0,150.8 L306.0,153.5 L307.0,156.3 L308.0,159.2 L309.0,162.0 L310.0,164.8 L311.0,167.6 L312.0,170.4 L313.0,173.2 L314.0,175.9 L315.0,178.6 L316.0,181.4 L317.0,184.1 L318.0,186.9 L319.0,189.8 L320.0,192.7 L321.0,195.6 L322.0,198.6 L323.0,201.6 L324.0,204.6 L325.0,207.4 L326.0,210.2 L327.0,212.9 L328.0,215.4 L329.0,217.9 L330.0,220.4 L331.0,222.8 L332.0,225.1 L333.0,227.2 L334.0,229.2 L335.0,231.2 L336.0,233.0 L337.0,234.8 L338.0,236.5 L339.0,238.3 L340.0,240.1 L341.0,241.8 L342.0,243.6 L343.0,245.3 L344.0,246.9 L345.0,248.5 L346.0,250.0 L347.0,251.3 L348.0,252.6 L349.0,253.9 L350.0,255.0 L351.0,256.1 L352.0,257.2 L353.0,258.2 L354.0,259.2 L355.0,260.1 L356.0,261.1 L357.0,262.0 L358.0,262.8 L359.0,263.7 L360.0,264.6 L361.0,265.5 L362.0,266.4 L363.0,267.3 L364.0,268.3 L365.0,269.2 L366.0,270.1 L367.0,271.1 L368.0,272.0 L369.0,272.9 L370.0,273.9 L371.0,274.8 L372.0,275.7 L373.0,276.6 L374.0,277.5 L375.0,278.4 L376.0,279.2 L377.0,280.1 L378.0,280.9 L379.0,281.7 L380.0,282.5 L381.0,283.2 L382.0,283.9 L383.0,284.6 L384.0,285.3 L385.0,286.0 L386.0,286.7 L387.0,287.3 L388.0,288.0 L389.0,288.7 L390.0,289.4 L391.0,290.0 L392.0,290.7 L393.0,291.4 L394.0,292.1 L395.0,292.8 L396.0,293.5 L397.0,294.2 L398.0,294.9 L399.0,295.6 L400.0,296.3 L401.0,296.9 L402.0,297.6 L403.0,298.2 L404.0,298.9 L405.0,299.5 L406.0,300.1 L407.0,300.7 L408.0,301.4 L409.0,302.0 L410.0,302.6 L411.0,303.2 L412.0,303.8 L413.0,304.4 L414.0,305.0 L415.0,305.6 L416.0,306.2 L417.0,306.8 L418.0,307.3 L419.0,307.9 L420.0,308.5 L421.0,309.0 L422.0,309.6 L423.0,310.1 L424.0,310.6 L425.0,311.1 L426.0,311.7 L427.0,312.2 L428.0,312.7 L429.0,313.2 L430.0,313.7 L431.0,314.2 L432.0,314.7 L433.0,315.2 L434.0,315.7 L435.0,316.2 L436.0,316.8 L437.0,317.3 L438.0,317.8 L439.0,318.3 L440.0,318.9 L441.0,319.4 L442.0,320.0 L443.0,320.6 L444.0,321.1 L445.0,321.7 L446.0,322.3 L447.0,322.9 L448.0,323.4 L449.0,324.0 L450.0,324.6 L451.0,325.2 L452.0,325.8 L453.0,326.4 L454.0,327.0 L455.0,327.6 L456.0,328.2 L457.0,328.8 L458.0,329.4 L459.0,330.0 L460.0,330.7 L461.0,331.3 L462.0,331.9 L463.0,332.5 L464.0,333.2 L465.0,333.8 L466.0,334.4 L467.0,335.1 L468.0,335.7 L469.0,336.4 L470.0,337.0 L471.0,337.7 L472.0,338.4 L473.0,339.0 L474.0,339.7 L475.0,340.4 L476.0,341.0 L477.0,341.7 L478.0,342.4 L479.0,343.1 L480.0,343.8 L481.0,344.5 L482.0,345.2 L483.0,346.0 L484.0,346.7 L485.0,347.4 L486.0,348.2 L487.0,348.9 L488.0,349.7 L489.0,350.4 L490.0,351.2 L491.0,352.0 L492.0,352.8 L493.0,353.5 L494.0,354.3 L495.0,355.1 L496.0,356.0 L497.0,356.8 L498.0,357.6 L499.0,358.5 L500.0,359.4 L501.0,360.3 L502.0,361.2 L503.0,362.2 L504.0,363.1 L505.0,364.1 L506.0,365.1 L507.0,366.1 L508.0,367.1 L509.0,368.2 L510.0,369.2 L511.0,370.3 L512.0,371.4 L513.0,372.5 L514.0,373.6 L515.0,374.7 L516.0,375.9 L517.0,377.0 L518.0,378.2 L519.0,379.4 L520.0,380.6 L521.0,381.8 L522.0,383.1 L523.0,384.3 L524.0,385.6 L525.0,386.9 L526.0,388.2 L527.0,389.5 L528.0,390.9 L529.0,392.2 L530.0,393.6 L531.0,394.9 L532.0,396.3 L533.0,397.7 L534.0,399.1 L535.0,400.5 L536.0,401.9 L537.0,403.4 L538.0,404.8 L539.0,406.2 L540.0,407.7 L541.0,409.2 L542.0,410.7 L543.0,412.2 L544.0,413.8 L545.0,415.4 L546.0,417.0 L547.0,418.7 L548.0,420.4 L549.0,422.1 L550.0,423.9 L551.0,425.7 L552.0,427.5 L553.0,429.4 L554.0,431.2 L555.0,433.0 L556.0,434.8 L557.0,436.6 L558.0,438.4 L559.0,440.1 L560.0,441.8 L561.0,443.5 L562.0,445.1 L563.0,446.7 L564.0,448.2 L565.0,449.8 L566.0,451.3 L567.0,452.7 L568.0,454.2 L569.0,455.7 L570.0,457.1 L571.0,458.6 L572.0,460.0 L573.0,461.4 L574.0,462.8 L575.0,464.2 L576.0,465.6 L577.0,467.0 L578.0,468.4 L579.0,469.8 L580.0,471.2 L581.0,472.5 L582.0,473.9 L583.0,475.2 L584.0,476.6 L585.0,477.9 L586.0,479.2 L587.0,480.5 L588.0,481.8 L589.0,483.1 L590.0,484.4 L591.0,485.7 L592.0,486.9 L593.0,488.2 L594.0,489.5 L595.0,490.7 L596.0,492.0 L597.0,493.2 L598.0,494.5 L599.0,495.7 L600.0,497.0 L601.0,498.2 L602.0,499.5 L603.0,500.7 L604.0,502.0 L605.0,503.2 L606.0,504.5 L607.0,505.7 L608.0,506.9 L609.0,508.2 L610.0,509.4 L611.0,510.6 L612.0,511.7 L613.0,512.9 L614.0,514.0 L615.0,515.1 L616.0,516.2 L617.0,517.2 L618.0,518.3 L619.0,519.3 L620.0,520.2 L621.0,521.2 L622.0,522.1 L623.0,523.0 L624.0,523.8 L625.0,524.7 L626.0,525.5 L627.0,526.3 L628.0,527.1 L629.0,527.8 L630.0,528.6 L631.0,529.3 L632.0,530.0 L633.0,530.7 L634.0,531.4 L635.0,532.0 L636.0,532.6 L637.0,533.3 L638.0,533.9 L639.0,534.4 L640.0,535.0 L641.0,535.6 L642.0,536.1 L643.0,536.6 L644.0,537.1 L645.0,537.6 L646.0,538.1 L647.0,538.6 L648.0,539.1 L649.0,539.5 L650.0,540.0 L651.0,540.4 L652.0,540.8 L653.0,541.3 L654.0,541.7 L655.0,542.1 L656.0,542.5 L657.0,543.0 L658.0,543.4 L659.0,543.8 L660.0,544.1 L661.0,544.5 L662.0,544.9 L663.0,545.3 L664.0,545.7 L665.0,546.0 L666.0,546.4 L667.0,546.8 L668.0,547.1 L669.0,547.4 L670.0,547.8 L671.0,548.1 L672.0,548.4 L673.0,548.8 L674.0,549.1 L675.0,549.4 L676.0,549.7 L677.0,550.0 L678.0,550.3 L679.0,550.5 L680.0,550.8 L681.0,551.1 L682.0,551.4 L683.0,551.6 L684.0,551.9 L685.0,552.1 L686.0,552.4 L687.0,552.6 L688.0,552.8 L689.0,553.1 L690.0,553.3 L691.0,553.5 L692.0,553.7 L693.0,553.9 L694.0,554.1 L695.0,554.3 L696.0,554.5 L697.0,554.7 L698.0,554.9 L699.0,555.1 L700.0,555.3 L701.0,555.4 L702.0,555.6 L703.0,555.8 L704.0,555.9 L705.0,556.1 L706.0,556.2 L707.0,556.4 L708.0,556.5 L709.0,556.6 L710.0,556.8 L711.0,556.9 L712.0,557.0 L713.0,557.1 L714.0,557.3 L715.0,557.4 L716.0,557.5 L717.0,557.6 L718.0,557.7 L719.0,557.8 L720.0,557.9 L721.0,557.9 L722.0,558.0 L723.0,558.1 L724.0,558.2 L725.0,558.3 L726.0,558.3 L727.0,558.4 L728.0,558.5 L729.0,558.5 L730.0,558.6 L731.0,558.6 L732.0,558.7 L733.0,558.8 L734.0,558.8 L735.0,558.9 L736.0,558.9 L737.0,559.0 L738.0,559.1 L739.0,559.1 L740.0,559.2 L741.0,559.2 L742.0,559.3 L743.0,559.3 L744.0,559.4 L745.0,559.4 L746.0,559.5 L747.0,559.5 L748.0,559.6 L749.0,559.6 L750.0,559.6 L751.0,559.7 L752.0,559.7 L753.0,559.8 L754.0,559.8 L755.0,559.8 L756.0,559.9 L757.0,559.9 L758.0,559.9 L759.0,560.0 L760.0,560.0 L761.0,560.0 L762.0,560.0 L763.0,560.0 L764.0,560.1 L765.0,560.1 L766.0,560.1 L767.0,560.1 L768.0,560.1 L769.0,560.1 L770.0,560.1 L771.0,560.2 L772.0,560.2 L773.0,560.2 L774.0,560.2 L775.0,560.2 L776.0,560.2 L777.0,560.2 L778.0,560.2 L779.0,560.2 L780.0,560.3 L781.0,560.3 L782.0,560.3 L783.0,560.3 L784.0,560.3 L785.0,560.3 L786.0,560.3 L787.0,560.3 L788.0,560.4 L789.0,560.4 L790.0,560.4 L791.0,560.4 L792.0,560.4 L793.0,560.4 L794.0,560.4 L795.0,560.4 L796.0,560.5 L797.0,560.5 L798.0,560.5 L799.0,560.5 L800.0,560.5 L801.0,560.5 L802.0,560.6 L803.0,560.6 L804.0,560.6 L805.0,560.6 L806.0,560.6 L807.0,560.7 L808.0,560.7 L809.0,560.7 L810.0,560.7 L811.0,560.7 L812.0,560.8 L813.0,560.8 L814.0,560.8 L815.0,560.9 L816.0,560.9 L817.0,560.9 L818.0,561.0 L819.0,561.0 L820.0,561.0 L821.0,561.1 L822.0,561.1 L823.0,561.2 L824.0,561.2 L825.0,561.3 L826.0,561.3 L827.0,561.4 L828.0,561.4 L829.0,561.5 L830.0,561.5 L831.0,561.6 L832.0,561.7 L833.0,561.7 L834.0,561.8 L835.0,561.9 L836.0,562.0 L837.0,562.0 L838.0,562.1 L839.0,562.2 L840.0,562.3 L841.0,562.4 L842.0,562.5 L843.0,562.6 L844.0,562.7 L845.0,562.8 L846.0,562.9 L847.0,563.0 L848.0,563.1 L849.0,563.3 L850.0,563.4 L851.0,563.5 L852.0,563.6 L853.0,563.7 L854.0,563.9 L855.0,564.0 L856.0,564.1 L857.0,564.2 L858.0,564.3 L859.0,564.5 L860.0,564.6 L861.0,564.7 L862.0,564.8 L863.0,565.0 L864.0,565.1 L865.0,565.2 L866.0,565.3 L867.0,565.5 L868.0,565.6 L869.0,565.7 L870.0,565.8 L871.0,566.0 L872.0,566.1 L873.0,566.2 L874.0,566.4 L875.0,566.5 L876.0,566.6 L877.0,566.8 L878.0,566.9 L879.0,567.1 L880.0,567.2 L881.0,567.4 L882.0,567.5 L883.0,567.7 L884.0,567.8 L885.0,568.0 L886.0,568.2 L887.0,568.3 L888.0,568.5 L889.0,568.7 L890.0,568.9 L891.0,569.1 L892.0,569.3 L893.0,569.5 L894.0,569.7 L895.0,569.9 L896.0,570.1 L897.0,570.4 L898.0,570.6 L899.0,570.8 L900.0,571.0 L901.0,571.3 L902.0,571.5 L903.0,571.7 L904.0,571.9 L905.0,572.1 L906.0,572.3 L907.0,572.5 L908.0,572.7 L909.0,572.9 L910.0,573.1 L911.0,573.3 L912.0,573.4 L913.0,573.6 L914.0,573.8 L915.0,573.9 L916.0,574.1 L917.0,574.2 L918.0,574.4 L919.0,574.5 L920.0,574.6 L921.0,574.8 L922.0,574.9 L923.0,575.0 L924.0,575.1 L925.0,575.3 L926.0,575.4 L927.0,575.5 L928.0,575.6 L929.0,575.7 L930.0,575.8 L931.0,575.9 L932.0,575.9 L933.0,576.0 L934.0,576.1 L935.0,576.2 L936.0,576.2 L937.0,576.3 L938.0,576.4 L939.0,576.4 L940.0,576.5 L941.0,576.5 L942.0,576.5 L943.0,576.5 L944.0,576.6 L945.0,576.6 L946.0,576.6 L947.0,576.6 L948.0,576.6 L949.0,576.5 L950.0,576.5 L951.0,576.5 L952.0,576.4 L953.0,576.4 L954.0,576.3 L955.0,576.2 L956.0,576.2 L957.0,576.1 L958.0,576.0 L959.0,575.9 L960.0,575.8 L961.0,575.6 L962.0,575.5 L963.0,575.4 L964.0,575.2 L965.0,575.1 L966.0,574.9 L967.0,574.7 L968.0,574.5 L969.0,574.3 L970.0,574.1 L971.0,573.8 L972.0,573.6 L973.0,573.4 L974.0,573.1 L975.0,572.8 L976.0,572.5 L977.0,572.2 L978.0,571.9 L979.0,571.5 L980.0,571.2 L981.0,570.8 L982.0,570.4 L983.0,570.0 L984.0,569.6 L985.0,569.2 L986.0,568.8 L987.0,568.3 L988.0,567.9 L989.0,567.4 L990.0,567.0 L991.0,566.6 L992.0,566.1 L993.0,565.7 L994.0,565.3 L995.0,565.0 L996.0,564.7 L997.0,564.4 L998.0,564.1 L999.0,563.9 L1000.0,563.7 L1001.0,563.5 L1002.0,563.4" stroke="#d9260a"/>
</g>
<text transform="translate(146.6,582.6) scale(1,1.04)" style="font-family:'Liberation Sans',Arial,sans-serif;font-size:34px" text-anchor="end">0</text>
<text transform="translate(146.6,498.2) scale(1,1.04)" style="font-family:'Liberation Sans',Arial,sans-serif;font-size:34px" text-anchor="end">0.02</text>
<text transform="translate(146.6,413.8) scale(1,1.04)" style="font-family:'Liberation Sans',Arial,sans-serif;font-size:34px" text-anchor="end">0.04</text>
<text transform="translate(146.6,329.4) scale(1,1.04)" style="font-family:'Liberation Sans',Arial,sans-serif;font-size:34px" text-anchor="end">0.06</text>
<text transform="translate(146.6,245.0) scale(1,1.04)" style="font-family:'Liberation Sans',Arial,sans-serif;font-size:34px" text-anchor="end">0.08</text>
<text transform="translate(146.6,160.6) scale(1,1.04)" style="font-family:'Liberation Sans',Arial,sans-serif;font-size:34px" text-anchor="end">0.1</text>
<text transform="translate(146.6,76.2) scale(1,1.04)" style="font-family:'Liberation Sans',Arial,sans-serif;font-size:34px" text-anchor="end">0.12</text>
<text transform="translate(154.9,610.0) scale(1,1.04)" style="font-family:'Liberation Sans',Arial,sans-serif;font-size:34px" text-anchor="middle">0</text>
<text transform="translate(323.2,610.0) scale(1,1.04)" style="font-family:'Liberation Sans',Arial,sans-serif;font-size:34px" text-anchor="middle">0.2</text>
<text transform="translate(491.5,610.0) scale(1,1.04)" style="font-family:'Liberation Sans',Arial,sans-serif;font-size:34px" text-anchor="middle">0.4</text>
<text transform="translate(659.7,610.0) scale(1,1.04)" style="font-family:'Liberation Sans',Arial,sans-serif;font-size:34px" text-anchor="middle">0.6</text>
<text transform="translate(828.0,610.0) scale(1,1.04)" style="font-family:'Liberation Sans',Arial,sans-serif;font-size:34px" text-anchor="middle">0.8</text>
<text transform="translate(996.3,610.0) scale(1,1.04)" style="font-family:'Liberation Sans',Arial,sans-serif;font-size:34px" text-anchor="middle">1</text>
<rect x="156.2" y="721.8" width="851.1" height="603.2" stroke="#1a1a1a" stroke-width="1.6" fill="none"/>
<path d="M156.2,1325.0v-8.5M156.2,721.8v8.5M369.0,1325.0v-8.5M369.0,721.8v8.5M581.8,1325.0v-8.5M581.8,721.8v8.5M794.5,1325.0v-8.5M794.5,721.8v8.5M1007.3,1325.0v-8.5M1007.3,721.8v8.5M156.2,1325.0h8.5M1007.3,1325.0h-8.5M156.2,1258.0h8.5M1007.3,1258.0h-8.5M156.2,1191.0h8.5M1007.3,1191.0h-8.5M156.2,1123.9h8.5M1007.3,1123.9h-8.5M156.2,1056.9h8.5M1007.3,1056.9h-8.5M156.2,989.9h8.5M1007.3,989.9h-8.5M156.2,922.9h8.5M1007.3,922.9h-8.5M156.2,855.8h8.5M1007.3,855.8h-8.5M156.2,788.8h8.5M1007.3,788.8h-8.5M156.2,721.8h8.5M1007.3,721.8h-8.5" stroke="#1a1a1a" stroke-width="1.6" fill="none"/>
<text transform="translate(148.0,1337.6) scale(1,1.04)" style="font-family:'Liberation Sans',Arial,sans-serif;font-size:34px" text-anchor="end">0</text>
<text transform="translate(148.0,1270.6) scale(1,1.04)" style="font-family:'Liberation Sans',Arial,sans-serif;font-size:34px" text-anchor="end">0.002</text>
<text transform="translate(148.0,1203.6) scale(1,1.04)" style="font-family:'Liberation Sans',Arial,sans-serif;font-size:34px" text-anchor="end">0.004</text>
<text transform="translate(148.0,1136.5) scale(1,1.04)" style="font-family:'Liberation Sans',Arial,sans-serif;font-size:34px" text-anchor="end">0.006</text>
<text transform="translate(148.0,1069.5) scale(1,1.04)" style="font-family:'Liberation Sans',Arial,sans-serif;font-size:34px" text-anchor="end">0.008</text>
<text transform="translate(148.0,1002.5) scale(1,1.04)" style="font-family:'Liberation Sans',Arial,sans-serif;font-size:34px" text-anchor="end">0.01</text>
<text transform="translate(148.0,935.5) scale(1,1.04)" style="font-family:'Liberation Sans',Arial,sans-serif;font-size:34px" text-anchor="end">0.012</text>
<text transform="translate(148.0,868.4) scale(1,1.04)" style="font-family:'Liberation Sans',Arial,sans-serif;font-size:34px" text-anchor="end">0.014</text>
<text transform="translate(148.0,801.4) scale(1,1.04)" style="font-family:'Liberation Sans',Arial,sans-serif;font-size:34px" text-anchor="end">0.016</text>
<text transform="translate(156.5,1364.8) scale(1,1.04)" style="font-family:'Liberation Sans',Arial,sans-serif;font-size:34px" text-anchor="middle">4</text>
<text transform="translate(369.3,1364.8) scale(1,1.04)" style="font-family:'Liberation Sans',Arial,sans-serif;font-size:34px" text-anchor="middle">6</text>
<text transform="translate(582.0,1364.8) scale(1,1.04)" style="font-family:'Liberation Sans',Arial,sans-serif;font-size:34px" text-anchor="middle">8</text>
<text transform="translate(794.8,1364.8) scale(1,1.04)" style="font-family:'Liberation Sans',Arial,sans-serif;font-size:34px" text-anchor="middle">10</text>
<text transform="translate(1007.6,1364.8) scale(1,1.04)" style="font-family:'Liberation Sans',Arial,sans-serif;font-size:34px" text-anchor="middle">12</text>
<path d="M156.2,1325.0 L262.6,1084.4 L369.0,1019.4 L475.4,1018.4 L581.8,951.8 L688.1,951.8 L794.5,936.9 L900.9,924.1 L1007.3,959.5" fill="none" stroke="#000000" stroke-width="5.7" stroke-linejoin="round" clip-path="url(#c2)"/>
<path d="M153.2,1312.7 L159.2,1312.7 L166.7,1323.5 L166.7,1326.5 L159.2,1337.3 L153.2,1337.3 L145.7,1326.5 L145.7,1323.5 Z" fill="#000000"/>
<path d="M259.6,1072.1 L265.6,1072.1 L273.1,1082.9 L273.1,1085.9 L265.6,1096.7 L259.6,1096.7 L252.1,1085.9 L252.1,1082.9 Z" fill="#000000"/>
<path d="M366.0,1007.1 L372.0,1007.1 L379.5,1017.9 L379.5,1020.9 L372.0,1031.7 L366.0,1031.7 L358.5,1020.9 L358.5,1017.9 Z" fill="#000000"/>
<path d="M472.4,1006.1 L478.4,1006.1 L485.9,1016.9 L485.9,1019.9 L478.4,1030.7 L472.4,1030.7 L464.9,1019.9 L464.9,1016.9 Z" fill="#000000"/>
<path d="M578.8,939.5 L584.8,939.5 L592.2,950.3 L592.2,953.3 L584.8,964.1 L578.8,964.1 L571.2,953.3 L571.2,950.3 Z" fill="#000000"/>
<path d="M685.1,939.5 L691.1,939.5 L698.6,950.3 L698.6,953.3 L691.1,964.1 L685.1,964.1 L677.6,953.3 L677.6,950.3 Z" fill="#000000"/>
<path d="M791.5,924.6 L797.5,924.6 L805.0,935.4 L805.0,938.4 L797.5,949.2 L791.5,949.2 L784.0,938.4 L784.0,935.4 Z" fill="#000000"/>
<path d="M897.9,911.8 L903.9,911.8 L911.4,922.6 L911.4,925.6 L903.9,936.4 L897.9,936.4 L890.4,925.6 L890.4,922.6 Z" fill="#000000"/>
<path d="M1004.3,947.2 L1010.3,947.2 L1017.8,958.0 L1017.8,961.0 L1010.3,971.8 L1004.3,971.8 L996.8,961.0 L996.8,958.0 Z" fill="#000000"/>
<path d="M156.2,1001.8 L262.6,973.7 L369.0,944.5 L475.4,972.6 L581.8,1034.7 L688.1,1066.7 L794.5,1092.6 L900.9,1093.7 L1007.3,1111.7" fill="none" stroke="#7a0fe8" stroke-width="5.7" stroke-linejoin="round" clip-path="url(#c2)"/>
<path d="M153.3,989.2 L159.1,989.2 L165.8,1001.9 L165.8,1009.6 L146.6,1009.6 L146.6,1001.9 Z" fill="#7a0fe8"/>
<path d="M259.7,961.1 L265.5,961.1 L272.2,973.8 L272.2,981.5 L253.0,981.5 L253.0,973.8 Z" fill="#7a0fe8"/>
<path d="M366.1,931.9 L371.9,931.9 L378.6,944.6 L378.6,952.3 L359.4,952.3 L359.4,944.6 Z" fill="#7a0fe8"/>
<path d="M472.5,960.0 L478.3,960.0 L485.0,972.7 L485.0,980.4 L465.8,980.4 L465.8,972.7 Z" fill="#7a0fe8"/>
<path d="M578.9,1022.1 L584.6,1022.1 L591.4,1034.8 L591.4,1042.5 L572.1,1042.5 L572.1,1034.8 Z" fill="#7a0fe8"/>
<path d="M685.2,1054.1 L691.0,1054.1 L697.7,1066.8 L697.7,1074.5 L678.5,1074.5 L678.5,1066.8 Z" fill="#7a0fe8"/>
<path d="M791.6,1080.0 L797.4,1080.0 L804.1,1092.7 L804.1,1100.4 L784.9,1100.4 L784.9,1092.7 Z" fill="#7a0fe8"/>
<path d="M898.0,1081.1 L903.8,1081.1 L910.5,1093.8 L910.5,1101.5 L891.3,1101.5 L891.3,1093.8 Z" fill="#7a0fe8"/>
<path d="M1004.4,1099.1 L1010.2,1099.1 L1016.9,1111.8 L1016.9,1119.5 L997.7,1119.5 L997.7,1111.8 Z" fill="#7a0fe8"/>
<path d="M156.2,1325.0 L262.6,1325.0 L369.0,1325.0 L475.4,1255.0 L581.8,1220.7 L688.1,1196.2 L794.5,1169.3 L900.9,1126.7 L1007.3,1157.0" fill="none" stroke="#0a800a" stroke-width="5.7" stroke-linejoin="round" clip-path="url(#c2)"/>
<path d="M146.4,1317.0 L166.0,1317.0 L166.6,1320.5 L158.9,1337.0 L153.5,1337.0 L145.8,1320.5 Z" fill="#0a800a"/>
<path d="M252.8,1317.0 L272.4,1317.0 L273.0,1320.5 L265.3,1337.0 L259.9,1337.0 L252.2,1320.5 Z" fill="#0a800a"/>
<path d="M359.2,1317.0 L378.8,1317.0 L379.4,1320.5 L371.7,1337.0 L366.3,1337.0 L358.6,1320.5 Z" fill="#0a800a"/>
<path d="M465.6,1247.0 L485.2,1247.0 L485.8,1250.5 L478.1,1267.0 L472.7,1267.0 L465.0,1250.5 Z" fill="#0a800a"/>
<path d="M572.0,1212.7 L591.5,1212.7 L592.1,1216.2 L584.5,1232.7 L579.0,1232.7 L571.4,1216.2 Z" fill="#0a800a"/>
<path d="M678.3,1188.2 L697.9,1188.2 L698.5,1191.7 L690.8,1208.2 L685.4,1208.2 L677.7,1191.7 Z" fill="#0a800a"/>
<path d="M784.7,1161.3 L804.3,1161.3 L804.9,1164.8 L797.2,1181.3 L791.8,1181.3 L784.1,1164.8 Z" fill="#0a800a"/>
<path d="M891.1,1118.7 L910.7,1118.7 L911.3,1122.2 L903.6,1138.7 L898.2,1138.7 L890.5,1122.2 Z" fill="#0a800a"/>
<path d="M997.5,1149.0 L1017.1,1149.0 L1017.7,1152.5 L1010.0,1169.0 L1004.6,1169.0 L996.9,1152.5 Z" fill="#0a800a"/>
<path d="M156.2,1325.0 L262.6,1325.0 L369.0,1325.0 L475.4,1255.3 L581.8,1237.0 L688.1,1219.9 L794.5,1204.5 L900.9,1184.8 L1007.3,1179.2" fill="none" stroke="#c0c000" stroke-width="5.7" stroke-linejoin="round" clip-path="url(#c2)"/>
<path d="M144.3,1322.5 L161.0,1313.0 L165.0,1316.7 L165.0,1333.3 L161.0,1337.0 L144.3,1327.5 Z" fill="#c0c000"/>
<path d="M250.7,1322.5 L267.4,1313.0 L271.4,1316.7 L271.4,1333.3 L267.4,1337.0 L250.7,1327.5 Z" fill="#c0c000"/>
<path d="M357.1,1322.5 L373.8,1313.0 L377.8,1316.7 L377.8,1333.3 L373.8,1337.0 L357.1,1327.5 Z" fill="#c0c000"/>
<path d="M463.5,1252.8 L480.2,1243.3 L484.2,1247.0 L484.2,1263.6 L480.2,1267.3 L463.5,1257.8 Z" fill="#c0c000"/>
<path d="M569.9,1234.5 L586.5,1225.0 L590.5,1228.7 L590.5,1245.3 L586.5,1249.0 L569.9,1239.5 Z" fill="#c0c000"/>
<path d="M676.2,1217.4 L692.9,1207.9 L696.9,1211.6 L696.9,1228.2 L692.9,1231.9 L676.2,1222.4 Z" fill="#c0c000"/>
<path d="M782.6,1202.0 L799.3,1192.5 L803.3,1196.2 L803.3,1212.8 L799.3,1216.5 L782.6,1207.0 Z" fill="#c0c000"/>
<path d="M889.0,1182.3 L905.7,1172.8 L909.7,1176.5 L909.7,1193.1 L905.7,1196.8 L889.0,1187.3 Z" fill="#c0c000"/>
<path d="M995.4,1176.7 L1012.1,1167.2 L1016.1,1170.9 L1016.1,1187.5 L1012.1,1191.2 L995.4,1181.7 Z" fill="#c0c000"/>
<path d="M156.2,1325.0 L262.6,1325.0 L369.0,1325.0 L475.4,1281.5 L581.8,1262.7 L688.1,1258.1 L794.5,1249.5 L900.9,1244.5 L1007.3,1228.5" fill="none" stroke="#0000ff" stroke-width="5.7" stroke-linejoin="round" clip-path="url(#c2)"/>
<path d="M150.7,1316.7 L161.7,1316.7 L164.5,1319.5 L164.5,1330.5 L161.7,1333.3 L150.7,1333.3 L147.9,1330.5 L147.9,1319.5 Z" fill="#0000ff"/><rect x="153.7" y="1322.5" width="5" height="5" fill="#127a12"/>
<path d="M257.1,1316.7 L268.1,1316.7 L270.9,1319.5 L270.9,1330.5 L268.1,1333.3 L257.1,1333.3 L254.3,1330.5 L254.3,1319.5 Z" fill="#0000ff"/><rect x="260.1" y="1322.5" width="5" height="5" fill="#127a12"/>
<path d="M363.5,1316.7 L374.5,1316.7 L377.3,1319.5 L377.3,1330.5 L374.5,1333.3 L363.5,1333.3 L360.7,1330.5 L360.7,1319.5 Z" fill="#0000ff"/><rect x="366.5" y="1322.5" width="5" height="5" fill="#127a12"/>
<path d="M469.9,1273.2 L480.9,1273.2 L483.7,1276.0 L483.7,1287.0 L480.9,1289.8 L469.9,1289.8 L467.1,1287.0 L467.1,1276.0 Z" fill="#0000ff"/><rect x="472.9" y="1279.0" width="5" height="5" fill="#127a12"/>
<path d="M576.2,1254.4 L587.2,1254.4 L590.0,1257.2 L590.0,1268.2 L587.2,1271.0 L576.2,1271.0 L573.5,1268.2 L573.5,1257.2 Z" fill="#0000ff"/><rect x="579.2" y="1260.2" width="5" height="5" fill="#127a12"/>
<path d="M682.6,1249.8 L693.6,1249.8 L696.4,1252.6 L696.4,1263.6 L693.6,1266.4 L682.6,1266.4 L679.8,1263.6 L679.8,1252.6 Z" fill="#0000ff"/><rect x="685.6" y="1255.6" width="5" height="5" fill="#127a12"/>
<path d="M789.0,1241.2 L800.0,1241.2 L802.8,1244.0 L802.8,1255.0 L800.0,1257.8 L789.0,1257.8 L786.2,1255.0 L786.2,1244.0 Z" fill="#0000ff"/><rect x="792.0" y="1247.0" width="5" height="5" fill="#127a12"/>
<path d="M895.4,1236.2 L906.4,1236.2 L909.2,1239.0 L909.2,1250.0 L906.4,1252.8 L895.4,1252.8 L892.6,1250.0 L892.6,1239.0 Z" fill="#0000ff"/><rect x="898.4" y="1242.0" width="5" height="5" fill="#127a12"/>
<path d="M1001.8,1220.2 L1012.8,1220.2 L1015.6,1223.0 L1015.6,1234.0 L1012.8,1236.8 L1001.8,1236.8 L999.0,1234.0 L999.0,1223.0 Z" fill="#0000ff"/><rect x="1004.8" y="1226.0" width="5" height="5" fill="#127a12"/>
<rect x="659.5" y="1.0" width="337.3" height="282.5" fill="#fff" stroke="#1a1a1a" stroke-width="1.4"/>
<path d="M680.6,34.2H784.6" stroke="#000000" stroke-width="5.6"/>
<text transform="translate(794.25,41.90) scale(1.1028,1)" style="font-family:'Liberation Serif','Times New Roman',serif;font-size:44.0px">original</text>
<path d="M680.6,82.3H784.6" stroke="#7a0fe8" stroke-width="5.6"/>
<text transform="translate(795.05,93.40) scale(1.1312,1)" style="font-family:'Liberation Serif','Times New Roman',serif;font-size:44.0px">iteration1</text>
<path d="M680.6,126.2H784.6" stroke="#0a800a" stroke-width="5.6"/>
<text transform="translate(795.04,137.60) scale(1.1431,1)" style="font-family:'Liberation Serif','Times New Roman',serif;font-size:44.0px">iteration2</text>
<path d="M680.6,170.2H784.6" stroke="#c0c000" stroke-width="5.6"/>
<text transform="translate(795.05,181.10) scale(1.1412,1)" style="font-family:'Liberation Serif','Times New Roman',serif;font-size:44.0px">iteration3</text>
<path d="M680.6,213.4H784.6" stroke="#0000ff" stroke-width="5.6"/>
<text transform="translate(795.05,224.10) scale(1.1389,1)" style="font-family:'Liberation Serif','Times New Roman',serif;font-size:44.0px">iteration4</text>
<path d="M680.6,257.0H784.6" stroke="#d9260a" stroke-width="5.6"/>
<text transform="translate(794.65,267.40) scale(1.0676,1)" style="font-family:'Liberation Serif','Times New Roman',serif;font-size:44.0px">final</text>
<rect x="656.9" y="642.9" width="350.6" height="268.9" fill="#fff" stroke="#1a1a1a" stroke-width="1.4"/>
<path d="M678.7,680.0H785.8" stroke="#000000" stroke-width="5.8"/>
<path d="M729.0,667.7 L735.0,667.7 L742.5,678.5 L742.5,681.5 L735.0,692.3 L729.0,692.3 L721.5,681.5 L721.5,678.5 Z" fill="#000000"/>
<text transform="translate(796.15,688.20) scale(1.1020,1)" style="font-family:'Liberation Serif','Times New Roman',serif;font-size:44.0px">original</text>
<path d="M678.7,734.4H785.8" stroke="#7a0fe8" stroke-width="5.8"/>
<path d="M729.1,721.8 L734.9,721.8 L741.6,734.5 L741.6,742.2 L722.4,742.2 L722.4,734.5 Z" fill="#7a0fe8"/>
<text transform="translate(796.95,745.50) scale(1.1349,1)" style="font-family:'Liberation Serif','Times New Roman',serif;font-size:44.0px">iteration1</text>
<path d="M678.7,783.0H785.8" stroke="#0a800a" stroke-width="5.8"/>
<path d="M722.2,775.0 L741.8,775.0 L742.4,778.5 L734.7,795.0 L729.3,795.0 L721.6,778.5 Z" fill="#0a800a"/>
<text transform="translate(796.95,794.80) scale(1.1400,1)" style="font-family:'Liberation Serif','Times New Roman',serif;font-size:44.0px">iteration2</text>
<path d="M678.7,831.7H785.8" stroke="#c0c000" stroke-width="5.8"/>
<path d="M720.1,829.2 L736.8,819.7 L740.8,823.4 L740.8,840.0 L736.8,843.7 L720.1,834.2 Z" fill="#c0c000"/>
<text transform="translate(796.95,843.50) scale(1.1418,1)" style="font-family:'Liberation Serif','Times New Roman',serif;font-size:44.0px">iteration3</text>
<path d="M678.7,880.6H785.8" stroke="#0000ff" stroke-width="5.8"/>
<path d="M726.5,872.3 L737.5,872.3 L740.3,875.1 L740.3,886.1 L737.5,888.9 L726.5,888.9 L723.7,886.1 L723.7,875.1 Z" fill="#0000ff"/><rect x="729.5" y="878.1" width="5" height="5" fill="#127a12"/>
<text transform="translate(796.95,891.30) scale(1.1419,1)" style="font-family:'Liberation Serif','Times New Roman',serif;font-size:44.0px">iteration4</text>
<text transform="translate(171.32,52.80) scale(0.8376,1)" style="font-family:'Liberation Serif','Times New Roman',serif;font-size:67.4px">(</text>
<text transform="translate(191.59,52.20) scale(1.1116,1)" style="font-family:'Liberation Serif','Times New Roman',serif;font-style:italic;font-size:57.6px">a</text>
<text transform="translate(225.14,52.80) scale(0.8087,1)" style="font-family:'Liberation Serif','Times New Roman',serif;font-size:67.4px">)</text>
<text transform="translate(182.24,775.00) scale(0.8319,1)" style="font-family:'Liberation Serif','Times New Roman',serif;font-size:67.4px">(</text>
<text transform="translate(204.00,773.80) scale(1.0752,1)" style="font-family:'Liberation Serif','Times New Roman',serif;font-size:60.0px">b</text>
<text transform="translate(238.24,775.00) scale(0.8087,1)" style="font-family:'Liberation Serif','Times New Roman',serif;font-size:67.4px">)</text>
<text transform="translate(544.94,652.00) scale(1.1214,1)" style="font-family:'Liberation Serif','Times New Roman',serif;font-style:italic;font-size:52.0px">r</text>
<text transform="translate(573.70,664.40) scale(0.9414,1)" style="font-family:'Liberation Serif','Times New Roman',serif;font-size:78.0px">/</text>
<text transform="translate(597.75,652.40) scale(1.0669,1)" style="font-family:'Liberation Serif','Times New Roman',serif;font-style:italic;font-size:52.0px">a</text>
<text transform="translate(567.90,1416.50) scale(1.3353,1)" style="font-family:'Liberation Serif','Times New Roman',serif;font-style:italic;font-size:58.8px">n</text>
<text transform="translate(58.5,405.7) rotate(-90) translate(-2.09,0.00) scale(1.1066,1)" style="font-family:'Liberation Serif','Times New Roman',serif;font-style:italic;font-size:53.0px">n</text>
<text transform="translate(58.5,405.7) rotate(-90) translate(29.84,4.80) scale(1.0553,1)" style="font-family:'Liberation Serif','Times New Roman',serif;font-style:italic;font-size:40.0px">α</text>
<text transform="translate(58.5,405.7) rotate(-90) translate(52.92,0.10) scale(0.9204,1)" style="font-family:'Liberation Serif','Times New Roman',serif;font-size:58.8px">(</text>
<text transform="translate(58.5,405.7) rotate(-90) translate(70.61,0.00) scale(0.9048,1)" style="font-family:'Liberation Serif','Times New Roman',serif;font-size:54.0px">1</text>
<text transform="translate(58.5,405.7) rotate(-90) translate(97.16,0.00) scale(0.9438,1)" style="font-family:'Liberation Serif','Times New Roman',serif;font-size:54.0px">0</text>
<text transform="translate(58.5,405.7) rotate(-90) translate(124.69,0.00) scale(1.0043,1)" style="font-family:'Liberation Serif','Times New Roman',serif;font-style:italic;font-size:52.0px">e</text>
<text transform="translate(58.5,405.7) rotate(-90) translate(149.63,0.00) scale(0.9205,1)" style="font-family:'Liberation Serif','Times New Roman',serif;font-size:54.0px">1</text>
<text transform="translate(58.5,405.7) rotate(-90) translate(176.57,0.00) scale(0.8809,1)" style="font-family:'Liberation Serif','Times New Roman',serif;font-size:54.0px">9</text>
<text transform="translate(58.5,405.7) rotate(-90) translate(205.20,11.70) scale(0.9249,1)" style="font-family:'Liberation Serif','Times New Roman',serif;font-size:79.0px">/</text>
<text transform="translate(58.5,405.7) rotate(-90) translate(227.53,0.00) scale(1.3664,1)" style="font-family:'Liberation Serif','Times New Roman',serif;font-style:italic;font-size:50.0px">m</text>
<text transform="translate(58.5,405.7) rotate(-90) translate(275.71,-16.00) scale(0.9818,1)" style="font-family:'Liberation Serif','Times New Roman',serif;font-size:36.0px">3</text>
<text transform="translate(58.5,405.7) rotate(-90) translate(292.74,0.10) scale(0.8211,1)" style="font-family:'Liberation Serif','Times New Roman',serif;font-size:58.8px">)</text>
<text transform="translate(40.8,1073.3) rotate(-90) translate(-1.20,0.00) scale(1.2758,1)" style="font-family:'Liberation Serif','Times New Roman',serif;font-style:italic;font-size:52.0px">γ</text>
<text transform="translate(40.8,1073.3) rotate(-90) translate(31.04,0.40) scale(0.8566,1)" style="font-family:'Liberation Serif','Times New Roman',serif;font-size:60.0px">(</text>
<text transform="translate(40.8,1073.3) rotate(-90) translate(48.03,0.00) scale(0.9883,1)" style="font-family:'Liberation Serif','Times New Roman',serif;font-style:italic;font-size:51.0px">ω</text>
<text transform="translate(40.8,1073.3) rotate(-90) translate(86.59,5.20) scale(0.9353,1)" style="font-family:'Liberation Serif','Times New Roman',serif;font-style:italic;font-size:39.0px">A</text>
<text transform="translate(40.8,1073.3) rotate(-90) translate(107.54,0.40) scale(0.7528,1)" style="font-family:'Liberation Serif','Times New Roman',serif;font-size:60.0px">)</text>
</svg>
</body></html>
